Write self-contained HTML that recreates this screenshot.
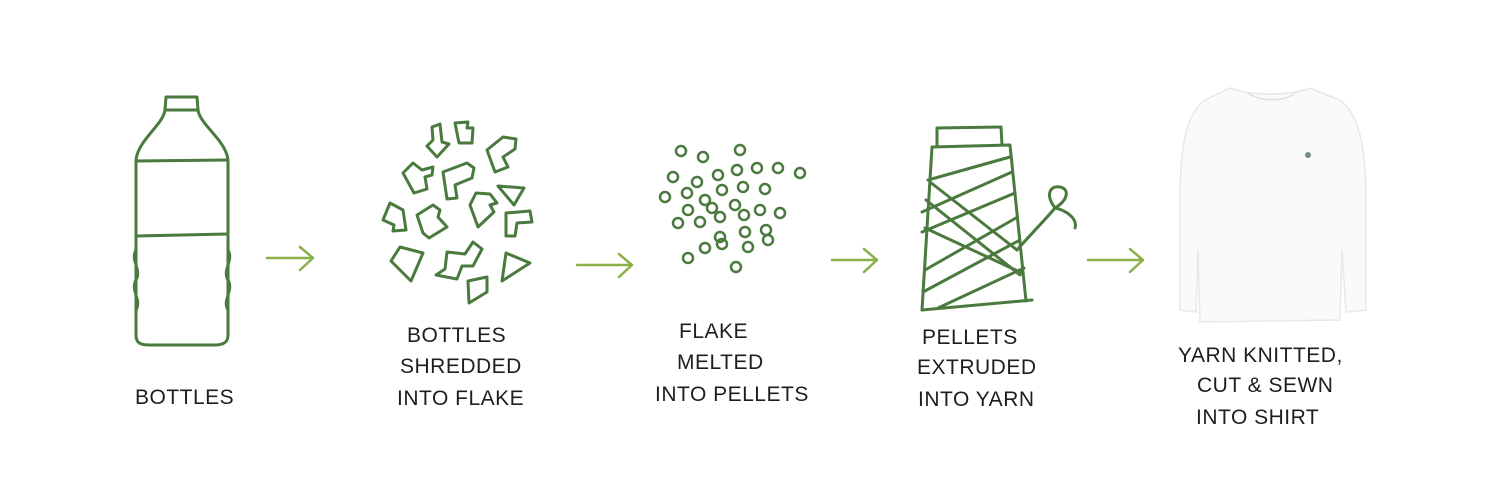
<!DOCTYPE html>
<html><head><meta charset="utf-8"><style>
html,body{margin:0;padding:0;background:#fff;}
svg{display:block}
text{font-family:"Liberation Sans",sans-serif;font-size:21px;fill:#1e1e1e;letter-spacing:0.5px;}
</style></head><body>
<svg width="1500" height="500" viewBox="0 0 1500 500" xmlns="http://www.w3.org/2000/svg">
<g fill="none" stroke="#4a7a3e" stroke-width="3" stroke-linejoin="round" stroke-linecap="round">
<!-- bottle -->
<path d="M166,97 L197,97 L198,110 L165,110 Z"/>
<path d="M165,110 C163,125 138,140 136,160 L136,335 C136,343 140,345 150,345 L215,345 C224,345 228,342 228,335 L228,160 C226,140 200,125 198,110"/>
<path d="M136,161 L228,160 M136,236 L228,234"/>
<path d="M136,250 C130,260 142,270 136,280 C130,290 142,300 136,310 M228,250 C234,260 222,270 228,280 C234,290 222,300 228,310"/>
<!-- flakes -->
<polygon points="432,127 440,124 442,142 449,144 437,157 427,146 433,140"/>
<polygon points="455,123 468,122 467,128 473,128 472,143 459,143"/>
<polygon points="487,150 503,137 516,139 515,149 503,157 508,167 495,172"/>
<polygon points="403,173 413,163 422,170 433,167 432,175 425,177 427,189 414,193"/>
<polygon points="443,172 467,163 474,168 472,178 455,185 457,198 447,199"/>
<polygon points="498,186 524,188 514,205"/>
<polygon points="470,205 476,193 490,194 497,203 490,205 494,212 478,227"/>
<polygon points="383,220 390,203 403,210 406,230 393,231 394,225"/>
<polygon points="417,215 433,205 440,210 438,217 447,227 429,238 423,233"/>
<polygon points="506,213 530,211 532,222 517,223 515,236 506,236"/>
<polygon points="400,247 423,253 411,281 391,261"/>
<polygon points="447,252 465,254 473,242 482,249 473,266 462,266 457,279 436,275 445,269"/>
<polygon points="468,281 487,277 487,292 469,303"/>
<polygon points="506,253 530,263 502,281"/>
<!-- pellets -->
<g stroke-width="2.5">
<circle cx="681" cy="151" r="5"/><circle cx="703" cy="157" r="5"/><circle cx="740" cy="150" r="5"/>
<circle cx="673" cy="177" r="5"/><circle cx="697" cy="182" r="5"/><circle cx="718" cy="175" r="5"/><circle cx="737" cy="170" r="5"/><circle cx="757" cy="168" r="5"/><circle cx="778" cy="168" r="5"/><circle cx="800" cy="173" r="5"/>
<circle cx="665" cy="197" r="5"/><circle cx="687" cy="193" r="5"/><circle cx="705" cy="200" r="5"/><circle cx="722" cy="190" r="5"/><circle cx="743" cy="187" r="5"/><circle cx="765" cy="189" r="5"/>
<circle cx="688" cy="210" r="5"/><circle cx="712" cy="208" r="5"/><circle cx="735" cy="205" r="5"/><circle cx="760" cy="210" r="5"/><circle cx="780" cy="213" r="5"/>
<circle cx="678" cy="223" r="5"/><circle cx="700" cy="222" r="5"/><circle cx="720" cy="217" r="5"/><circle cx="744" cy="215" r="5"/><circle cx="766" cy="230" r="5"/>
<circle cx="720" cy="237" r="5"/><circle cx="745" cy="232" r="5"/><circle cx="768" cy="240" r="5"/>
<circle cx="705" cy="248" r="5"/><circle cx="722" cy="244" r="5"/><circle cx="748" cy="247" r="5"/>
<circle cx="688" cy="258" r="5"/><circle cx="736" cy="267" r="5"/>
</g>
<!-- spool -->
<path d="M937,145 L937,128 L1001,127 L1002,145"/>
<path d="M932,147 L1010,145 L1026,301 M932,147 L922,310 M922,310 L1032,300"/>
<path d="M928,180 L1010,157 M922,212 L1012,172 M922,232 L1015,193 M925,270 L1016,218 M923,292 L1020,240 M938,308 L1024,268 M930,182 L1017,250 M926,200 L1020,275 M925,228 L1022,273"/>
<path d="M1017,250 C1030,235 1045,220 1055,208 C1045,195 1050,185 1060,187 C1070,189 1068,200 1055,208 C1065,210 1078,218 1075,228"/>
</g>
<!-- arrows -->
<g fill="none" stroke="#8ab04a" stroke-width="2.5" stroke-linecap="round" stroke-linejoin="round">
<path d="M267,258 L313,258 M300,247 L313,258 L300,270"/>
<path d="M577,265 L632,265 M619,254 L632,265 L619,277"/>
<path d="M832,260 L877,260 M864,249 L877,260 L864,272"/>
<path d="M1088,260 L1143,260 M1130,249 L1143,260 L1130,272"/>
</g>
<!-- shirt -->
<path d="M1230,88 C1250,96 1290,96 1310,88 L1340,100 C1360,115 1366,150 1366,200 L1366,310 L1346,312 L1342,250 L1340,320 L1200,322 L1198,250 L1196,312 L1180,310 L1180,200 C1180,150 1185,115 1205,100 Z" fill="#fafafa" stroke="#e8e8e8" stroke-width="1.5"/>
<path d="M1248,93 C1260,102 1285,102 1295,93" fill="none" stroke="#e0e0e0" stroke-width="1.5"/>
<circle cx="1308" cy="155" r="3" fill="#6f8f86"/>
<!-- labels -->
<text x="135" y="404">BOTTLES</text>
<text x="407" y="342">BOTTLES</text>
<text x="400" y="373">SHREDDED</text>
<text x="397" y="405">INTO FLAKE</text>
<text x="679" y="338">FLAKE</text>
<text x="677" y="369">MELTED</text>
<text x="655" y="401">INTO PELLETS</text>
<text x="922" y="344">PELLETS</text>
<text x="917" y="374">EXTRUDED</text>
<text x="918" y="406">INTO YARN</text>
<text x="1178" y="362">YARN KNITTED,</text>
<text x="1197" y="392">CUT &amp; SEWN</text>
<text x="1196" y="424">INTO SHIRT</text>
</svg>
</body></html>
